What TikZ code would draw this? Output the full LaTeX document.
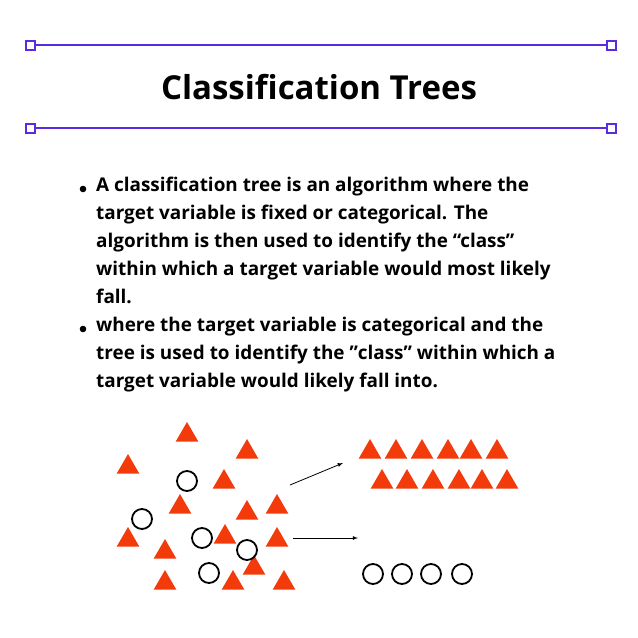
\documentclass[tikz,border=0pt]{standalone}
\usepackage{fontspec}
\usetikzlibrary{shapes.geometric}
\setmainfont{Open Sans}[Ligatures=ResetAll]
\definecolor{pur}{HTML}{5B2BE0}
\definecolor{tri}{HTML}{F23A0A}
\begin{document}
\begin{tikzpicture}[x=1pt,y=-1pt,
  sq/.style={draw=pur,line width=2pt,fill=white,minimum size=9pt,inner sep=0pt},
  tr/.style={fill=tri,regular polygon,regular polygon sides=3,minimum size=26pt,inner sep=0pt},
  ci/.style={draw=black,line width=1.8pt,circle,minimum size=20pt,inner sep=0pt},
  ar/.style={-latex,line width=0.8pt}]
\useasboundingbox (0,0) rectangle (638,638);
\draw[pur,line width=2pt] (30,45) -- (611,45);
\draw[pur,line width=2pt] (30,128) -- (611,128);
\node[sq] (s1) at (30,45) {};
\node[sq] (s2) at (611,45) {};
\node[sq] (s3) at (30,128) {};
\node[sq] (s4) at (611,128) {};
\node[font=\fontsize{33}{38}\selectfont\bfseries] (title) at (319,87) {Classification Trees};
\node[anchor=north west,font=\fontsize{18.9}{28}\selectfont\bfseries,align=left,inner sep=0pt] (t1) at (96,177)
 {A classification tree is an algorithm where the\\target variable is fixed or categorical. The\\algorithm is then used to identify the “class”\\within which a target variable would most likely\\fall.\\where the target variable is categorical and the\\tree is used to identify the "class" within which a\\target variable would likely fall into.};
\fill (83,189) circle (3.3pt);
\fill (83,329) circle (3.3pt);
\foreach \p [count=\i] in {(187,435),(247,452),(128,467),(224,482),(180,507),(277,507),(247,513),(128,540),(225,537),(277,540),(165,552),(254,568),(165,583),(233,583),(284,583),
(370,452),(396,452),(422,452),(448,452),(471,452),(497,452),(382,482),(407,482),(433,482),(459,482),(482,482),(507,482)}
  \node[tr] (tri\i) at \p {};
\foreach \p [count=\i] in {(187,481),(142,519),(202,538),(247,550),(209,573),(373,574),(402,574),(431,574),(462,574)}
  \node[ci] (c\i) at \p {};
\coordinate (a1s) at (290,485); \coordinate (a1e) at (343,463);
\coordinate (a2s) at (293,538); \coordinate (a2e) at (358,538);
\draw[ar] (a1s) -- (a1e);
\draw[ar] (a2s) -- (a2e);
\end{tikzpicture}
\end{document}
